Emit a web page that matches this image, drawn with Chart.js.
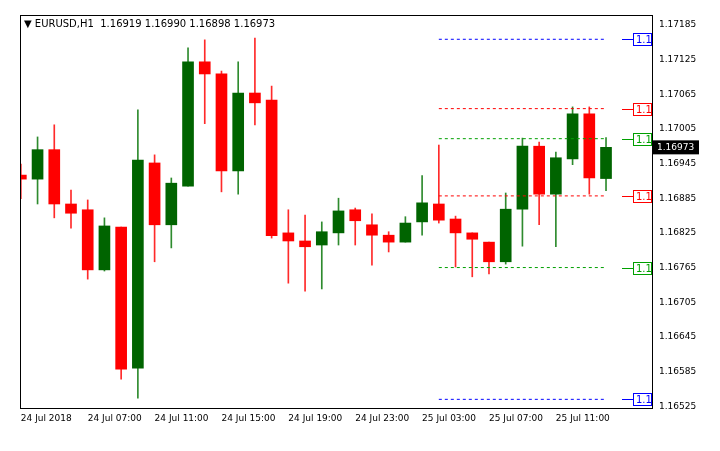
<!DOCTYPE html>
<html><head><meta charset="utf-8">
<script src="https://cdn.jsdelivr.net/npm/chart.js@4/dist/chart.umd.min.js"></script>
<style>html,body{margin:0;padding:0;background:#fff}#w{width:720px;height:451px}</style>
</head><body><div id="w"><canvas id="c"></canvas></div>
<script>
const timeLabels = ["24 Jul 2018","","","","24 Jul 07:00","","","","24 Jul 11:00","","","","24 Jul 15:00","","","","24 Jul 19:00","","","","24 Jul 23:00","","","","25 Jul 03:00","","","","25 Jul 07:00","","","","25 Jul 11:00","","",""];
const opens  = [1.16925,1.16918,1.16969,1.16875,1.16865,1.16761,1.16835,1.16591,1.16946,1.16839,1.16906,1.17121,1.17100,1.16932,1.17067,1.17055,1.16825,1.16811,1.16804,1.16825,1.16865,1.16839,1.16821,1.16809,1.16844,1.16875,1.16849,1.16825,1.16809,1.16775,1.16866,1.16975,1.16892,1.16953,1.17031,1.16919];
const highs  = [1.16944,1.16991,1.17012,1.16899,1.16882,1.16851,1.16835,1.17038,1.16960,1.16920,1.17145,1.17159,1.17105,1.17121,1.17162,1.17079,1.16865,1.16856,1.16844,1.16885,1.16868,1.16858,1.16827,1.16853,1.16924,1.16977,1.16854,1.16825,1.16809,1.16894,1.16989,1.16982,1.16965,1.17043,1.17043,1.16990];
const lows   = [1.16884,1.16875,1.16851,1.16833,1.16745,1.16759,1.16572,1.16539,1.16775,1.16799,1.16906,1.17014,1.16896,1.16892,1.17012,1.16816,1.16738,1.16724,1.16728,1.16804,1.16804,1.16769,1.16792,1.16809,1.16821,1.16842,1.16766,1.16749,1.16754,1.16771,1.16802,1.16839,1.16801,1.16943,1.16892,1.16898];
const closes = [1.16918,1.16969,1.16875,1.16859,1.16761,1.16837,1.16589,1.16951,1.16839,1.16911,1.17121,1.17100,1.16932,1.17067,1.17050,1.16820,1.16811,1.16801,1.16827,1.16863,1.16846,1.16821,1.16809,1.16842,1.16877,1.16847,1.16825,1.16814,1.16775,1.16866,1.16975,1.16892,1.16955,1.17031,1.16920,1.16973];
const levelValues = [1.17160,1.17040,1.16988,1.16889,1.16765,1.16537];
const levelColors = ["#0000ff","#ff0000","#00a000","#ff0000","#00a000","#0000ff"];
const yTicks = [1.16525,1.16585,1.16645,1.16705,1.16765,1.16825,1.16885,1.16945,1.17005,1.17065,1.17125,1.17185];
const currentPrice = 1.16973;
const lineStart = 25, lineEnd = 35;

const up = closes.map((c,i)=>c>=opens[i]);
const bodyCol = up.map(u=>u?'#006400':'#ff0000');
const wickCol = up.map(u=>u?'#2e8b2e':'#ff2a2a');

const datasets = [
 {type:'bar', data: lows.map((l,i)=>({x:i,y:[l,highs[i]]})), backgroundColor:wickCol, barThickness:1, grouped:false, order:3},
 {type:'bar', data: opens.map((o,i)=>({x:i,y:[o,closes[i]]})), backgroundColor:bodyCol, borderColor:bodyCol, borderWidth:0, barThickness:11, grouped:false, order:2, minBarLength:2}
];
levelValues.forEach((v,i)=>datasets.push({type:'line', data:[{x:lineStart,y:v},{x:lineEnd,y:v}], borderColor:levelColors[i], borderWidth:1, borderDash:[3,3], pointRadius:0, order:1}));

const overlay = {
 id:'overlay',
 afterDraw(ch){
  const {ctx, chartArea:a, scales:{x,y}} = ch;
  ctx.save();
  ctx.strokeStyle='#000'; ctx.lineWidth=1;
  ctx.strokeRect(a.left+0.5,a.top+0.5,a.right-a.left,a.bottom-a.top);
  ctx.font='10px "DejaVu Sans"'; ctx.textBaseline='middle';
  levelValues.forEach((v,i)=>{
   const py=Math.round(y.getPixelForValue(v))+0.5;
   ctx.strokeStyle=levelColors[i]; ctx.fillStyle='#fff';
   ctx.beginPath(); ctx.moveTo(a.right-30,py); ctx.lineTo(a.right-18,py); ctx.stroke();
   ctx.fillRect(a.right-18,py-6,18,12);
   ctx.strokeRect(a.right-18.5,py-6,18,12);
   ctx.fillStyle=levelColors[i]; ctx.textAlign='left';
   ctx.fillText('1.1',a.right-16,py+0.5);
  });
  const cp=y.getPixelForValue(currentPrice);
  ctx.fillStyle='#000'; ctx.fillRect(a.right+1,cp-7,46,14);
  ctx.fillStyle='#fff'; ctx.textAlign='left'; ctx.font='9px "DejaVu Sans"'; ctx.fillText(currentPrice.toFixed(5),a.right+5,cp+0.5);
  ctx.fillStyle='#000'; ctx.font='10px "DejaVu Sans"';
  ctx.fillText('\u25BC EURUSD,H1  1.16919 1.16990 1.16898 1.16973',a.left+4,a.top+9);
  ctx.restore();
 }
};

new Chart(document.getElementById('c'),{
 data:{datasets},
 options:{
  responsive:true, maintainAspectRatio:false, animation:false,
  layout:{padding:{left:20,top:15,right:0,bottom:0}},
  plugins:{legend:{display:false},tooltip:{enabled:false}},
  scales:{
   x:{type:'linear', min:-0.05, max:37.75, offset:false,
      grid:{display:false, drawTicks:true, tickLength:4, tickColor:'#000'},
      border:{display:false},
      afterBuildTicks(s){s.ticks=[0,4,8,12,16,20,24,28,32].map(v=>({value:v}));},
      afterFit(s){s.height=43;},
      ticks:{autoSkip:false, maxRotation:0, align:'start', padding:1, color:'#000', font:{family:'DejaVu Sans',size:9}, callback:(v)=>timeLabels[v]||''}},
   y:{position:'right', min:1.16522, max:1.17202,
      grid:{display:false, drawTicks:true, tickLength:4, tickColor:'#000'},
      border:{display:false},
      afterBuildTicks(s){s.ticks=yTicks.map(v=>({value:v}));},
      afterFit(s){s.width=68;},
      ticks:{autoSkip:false, padding:3, color:'#000', font:{family:'DejaVu Sans',size:9}, callback:(v)=>Number(v).toFixed(5)}}
  }
 },
 plugins:[overlay]
});
</script></body></html>
